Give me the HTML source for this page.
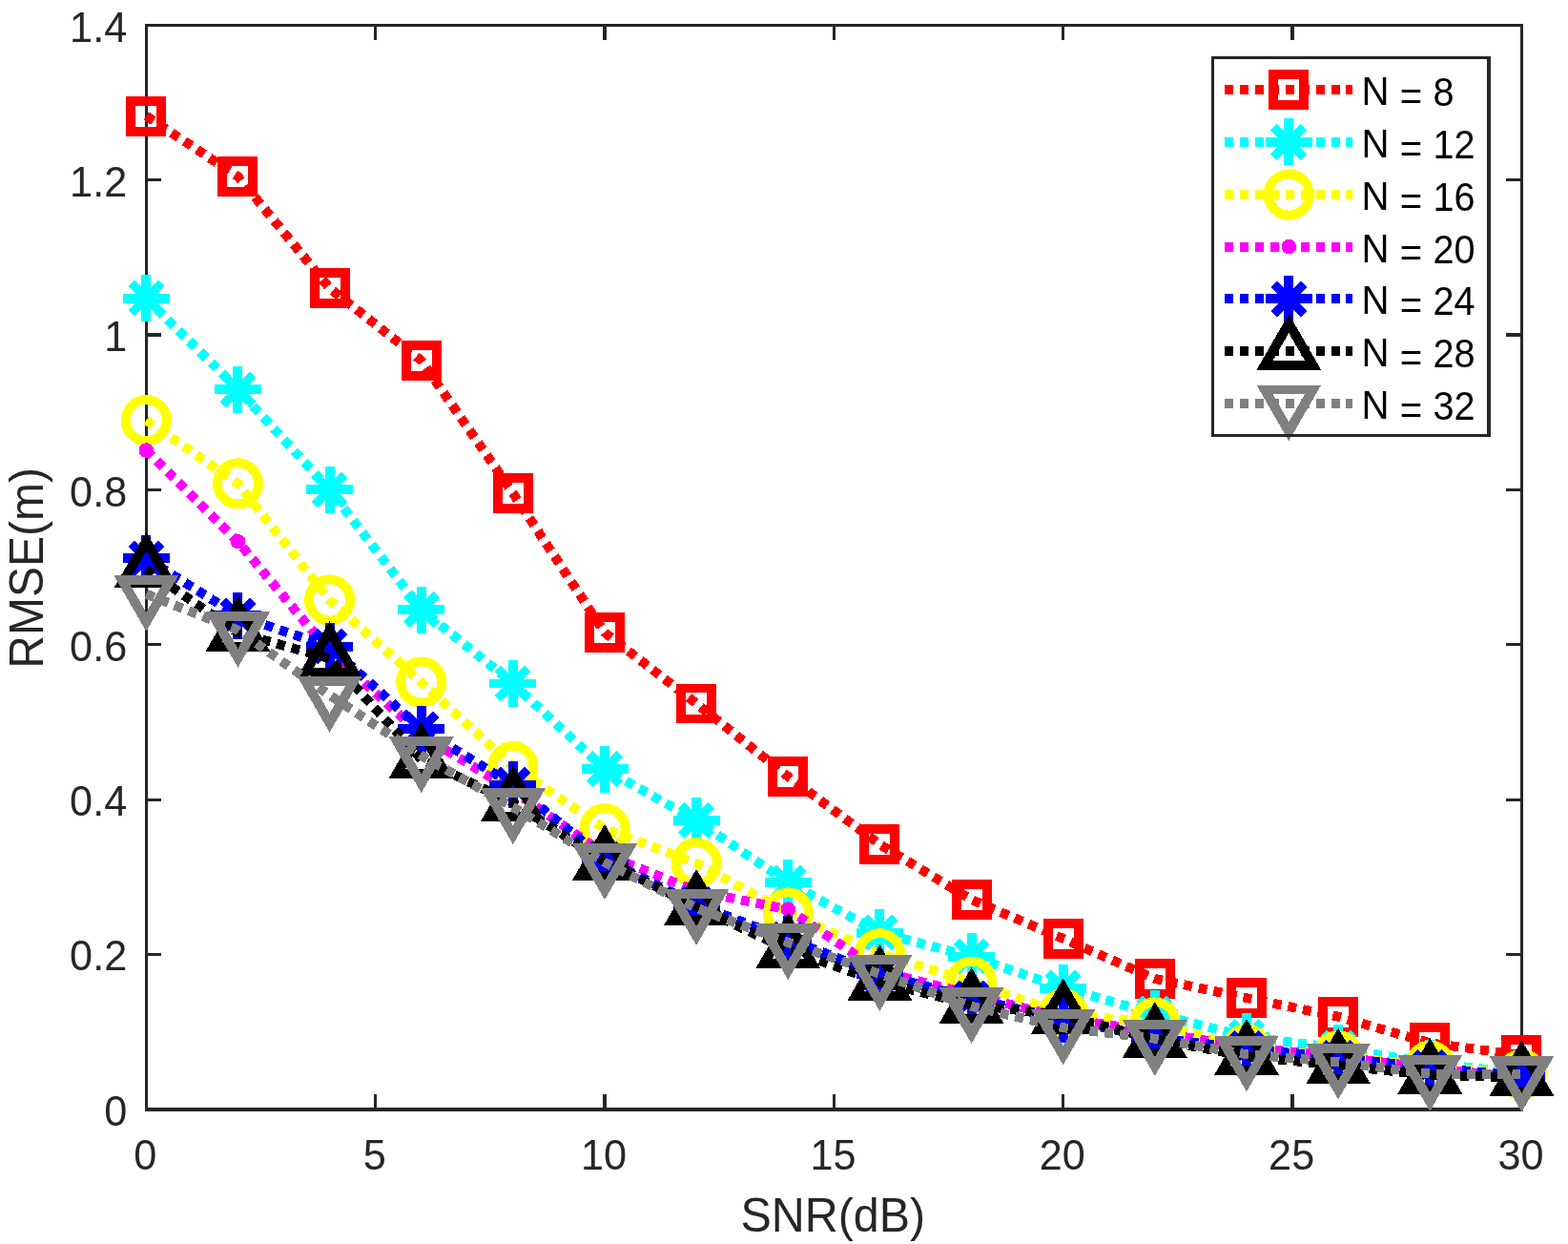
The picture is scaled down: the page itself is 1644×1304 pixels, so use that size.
<!DOCTYPE html>
<html lang="en"><head><meta charset="utf-8"><title>RMSE versus SNR</title>
<style>html,body{margin:0;padding:0;background:#fff}svg{display:block}text{font-family:"Liberation Sans",sans-serif}</style></head><body>
<svg width="1644" height="1304" viewBox="0 0 1644 1304" role="img" aria-label="RMSE versus SNR for different N">
<rect width="1644" height="1304" fill="#fff"/>
<g shape-rendering="crispEdges" fill="#262626">
<rect x="152" y="25" width="1445" height="3"/>
<rect x="152" y="1161" width="1445" height="4"/>
<rect x="152" y="25" width="3" height="1140"/>
<rect x="1594" y="25" width="3" height="1140"/>
<rect x="392" y="1147" width="3" height="14"/>
<rect x="392" y="28" width="3" height="14"/>
<rect x="632" y="1147" width="4" height="14"/>
<rect x="632" y="28" width="4" height="14"/>
<rect x="873" y="1147" width="3" height="14"/>
<rect x="873" y="28" width="3" height="14"/>
<rect x="1113" y="1147" width="3" height="14"/>
<rect x="1113" y="28" width="3" height="14"/>
<rect x="1353" y="1147" width="4" height="14"/>
<rect x="1353" y="28" width="4" height="14"/>
<rect x="155" y="999" width="14" height="3"/>
<rect x="1579" y="999" width="15" height="3"/>
<rect x="155" y="837" width="14" height="3"/>
<rect x="1579" y="837" width="15" height="3"/>
<rect x="155" y="674" width="14" height="3"/>
<rect x="1579" y="674" width="15" height="3"/>
<rect x="155" y="512" width="14" height="3"/>
<rect x="1579" y="512" width="15" height="3"/>
<rect x="155" y="349" width="14" height="4"/>
<rect x="1579" y="349" width="15" height="4"/>
<rect x="155" y="187" width="14" height="3"/>
<rect x="1579" y="187" width="15" height="3"/>
</g>
<g font-size="44.6" fill="#262626">
<g text-anchor="middle">
<text transform="translate(152.4 1226.0) scale(0.97 1)">0</text>
<text transform="translate(392.75 1226.0) scale(0.97 1)">5</text>
<text transform="translate(633.1 1226.0) scale(0.97 1)">10</text>
<text transform="translate(873.45 1226.0) scale(0.97 1)">15</text>
<text transform="translate(1113.8 1226.0) scale(0.97 1)">20</text>
<text transform="translate(1354.15 1226.0) scale(0.97 1)">25</text>
<text transform="translate(1594.5 1226.0) scale(0.97 1)">30</text>
</g><g text-anchor="end">
<text transform="translate(133.2 1179.8) scale(0.97 1)">0</text>
<text transform="translate(133.2 1017.49) scale(0.97 1)">0.2</text>
<text transform="translate(133.2 855.17) scale(0.97 1)">0.4</text>
<text transform="translate(133.2 692.86) scale(0.97 1)">0.6</text>
<text transform="translate(133.2 530.54) scale(0.97 1)">0.8</text>
<text transform="translate(133.2 368.23) scale(0.97 1)">1</text>
<text transform="translate(133.2 205.91) scale(0.97 1)">1.2</text>
<text transform="translate(133.2 43.6) scale(0.97 1)">1.4</text>
</g></g>
<g font-size="49.4" fill="#262626" text-anchor="middle">
<text transform="translate(873.3 1290.9) scale(0.98 1)">SNR(dB)</text>
<text transform="translate(44.9 595.3) rotate(-90) scale(0.972 1)">RMSE(m)</text>
</g>
<g shape-rendering="crispEdges" fill="none" stroke-linejoin="miter">
<g>
<polyline points="153.3,121.7 249.44,185 345.58,302.1 441.72,377.9 537.86,517 634,663.1 730.14,737.5 826.28,814 922.42,885.1 1018.56,943.1 1114.7,984 1210.84,1025.9 1306.98,1046.1 1403.12,1065.7 1499.26,1093.3 1595.4,1106.2" stroke="#ff0000" stroke-width="9.97" stroke-dasharray="8.96 6.97"/>
<rect x="137.3" y="105.7" width="32" height="32" fill="none" stroke="#ff0000" stroke-width="9.97"/>
<rect x="233.44" y="169" width="32" height="32" fill="none" stroke="#ff0000" stroke-width="9.97"/>
<rect x="329.58" y="286.1" width="32" height="32" fill="none" stroke="#ff0000" stroke-width="9.97"/>
<rect x="425.72" y="361.9" width="32" height="32" fill="none" stroke="#ff0000" stroke-width="9.97"/>
<rect x="521.86" y="501" width="32" height="32" fill="none" stroke="#ff0000" stroke-width="9.97"/>
<rect x="618" y="647.1" width="32" height="32" fill="none" stroke="#ff0000" stroke-width="9.97"/>
<rect x="714.14" y="721.5" width="32" height="32" fill="none" stroke="#ff0000" stroke-width="9.97"/>
<rect x="810.28" y="798" width="32" height="32" fill="none" stroke="#ff0000" stroke-width="9.97"/>
<rect x="906.42" y="869.1" width="32" height="32" fill="none" stroke="#ff0000" stroke-width="9.97"/>
<rect x="1002.56" y="927.1" width="32" height="32" fill="none" stroke="#ff0000" stroke-width="9.97"/>
<rect x="1098.7" y="968" width="32" height="32" fill="none" stroke="#ff0000" stroke-width="9.97"/>
<rect x="1194.84" y="1009.9" width="32" height="32" fill="none" stroke="#ff0000" stroke-width="9.97"/>
<rect x="1290.98" y="1030.1" width="32" height="32" fill="none" stroke="#ff0000" stroke-width="9.97"/>
<rect x="1387.12" y="1049.7" width="32" height="32" fill="none" stroke="#ff0000" stroke-width="9.97"/>
<rect x="1483.26" y="1077.3" width="32" height="32" fill="none" stroke="#ff0000" stroke-width="9.97"/>
<rect x="1579.4" y="1090.2" width="32" height="32" fill="none" stroke="#ff0000" stroke-width="9.97"/>
</g>
<g>
<polyline points="153.3,312.6 249.44,408.2 345.58,513.3 441.72,639 537.86,716.5 634,806.2 730.14,860 826.28,925.3 922.42,977.8 1018.56,1002.6 1114.7,1035.6 1210.84,1062.6 1306.98,1086.6 1403.12,1098.6 1499.26,1114.5 1595.4,1125" stroke="#00ffff" stroke-width="9.97" stroke-dasharray="8.96 6.97"/>
<path d="M128.8 312.6H177.8M153.3 288.1V337.1" fill="none" stroke="#00ffff" stroke-width="9.97"/><path d="M137.53 296.83L169.07 328.37M137.53 328.37L169.07 296.83" fill="none" stroke="#00ffff" stroke-width="9.2"/>
<path d="M224.94 408.2H273.94M249.44 383.7V432.7" fill="none" stroke="#00ffff" stroke-width="9.97"/><path d="M233.67 392.43L265.21 423.97M233.67 423.97L265.21 392.43" fill="none" stroke="#00ffff" stroke-width="9.2"/>
<path d="M321.08 513.3H370.08M345.58 488.8V537.8" fill="none" stroke="#00ffff" stroke-width="9.97"/><path d="M329.81 497.53L361.35 529.07M329.81 529.07L361.35 497.53" fill="none" stroke="#00ffff" stroke-width="9.2"/>
<path d="M417.22 639H466.22M441.72 614.5V663.5" fill="none" stroke="#00ffff" stroke-width="9.97"/><path d="M425.95 623.23L457.49 654.77M425.95 654.77L457.49 623.23" fill="none" stroke="#00ffff" stroke-width="9.2"/>
<path d="M513.36 716.5H562.36M537.86 692V741" fill="none" stroke="#00ffff" stroke-width="9.97"/><path d="M522.09 700.73L553.63 732.27M522.09 732.27L553.63 700.73" fill="none" stroke="#00ffff" stroke-width="9.2"/>
<path d="M609.5 806.2H658.5M634 781.7V830.7" fill="none" stroke="#00ffff" stroke-width="9.97"/><path d="M618.23 790.43L649.77 821.97M618.23 821.97L649.77 790.43" fill="none" stroke="#00ffff" stroke-width="9.2"/>
<path d="M705.64 860H754.64M730.14 835.5V884.5" fill="none" stroke="#00ffff" stroke-width="9.97"/><path d="M714.37 844.23L745.91 875.77M714.37 875.77L745.91 844.23" fill="none" stroke="#00ffff" stroke-width="9.2"/>
<path d="M801.78 925.3H850.78M826.28 900.8V949.8" fill="none" stroke="#00ffff" stroke-width="9.97"/><path d="M810.51 909.53L842.05 941.07M810.51 941.07L842.05 909.53" fill="none" stroke="#00ffff" stroke-width="9.2"/>
<path d="M897.92 977.8H946.92M922.42 953.3V1002.3" fill="none" stroke="#00ffff" stroke-width="9.97"/><path d="M906.65 962.03L938.19 993.57M906.65 993.57L938.19 962.03" fill="none" stroke="#00ffff" stroke-width="9.2"/>
<path d="M994.06 1002.6H1043.06M1018.56 978.1V1027.1" fill="none" stroke="#00ffff" stroke-width="9.97"/><path d="M1002.79 986.83L1034.33 1018.37M1002.79 1018.37L1034.33 986.83" fill="none" stroke="#00ffff" stroke-width="9.2"/>
<path d="M1090.2 1035.6H1139.2M1114.7 1011.1V1060.1" fill="none" stroke="#00ffff" stroke-width="9.97"/><path d="M1098.93 1019.83L1130.47 1051.37M1098.93 1051.37L1130.47 1019.83" fill="none" stroke="#00ffff" stroke-width="9.2"/>
<path d="M1186.34 1062.6H1235.34M1210.84 1038.1V1087.1" fill="none" stroke="#00ffff" stroke-width="9.97"/><path d="M1195.07 1046.83L1226.61 1078.37M1195.07 1078.37L1226.61 1046.83" fill="none" stroke="#00ffff" stroke-width="9.2"/>
<path d="M1282.48 1086.6H1331.48M1306.98 1062.1V1111.1" fill="none" stroke="#00ffff" stroke-width="9.97"/><path d="M1291.21 1070.83L1322.75 1102.37M1291.21 1102.37L1322.75 1070.83" fill="none" stroke="#00ffff" stroke-width="9.2"/>
<path d="M1378.62 1098.6H1427.62M1403.12 1074.1V1123.1" fill="none" stroke="#00ffff" stroke-width="9.97"/><path d="M1387.35 1082.83L1418.89 1114.37M1387.35 1114.37L1418.89 1082.83" fill="none" stroke="#00ffff" stroke-width="9.2"/>
<path d="M1474.76 1114.5H1523.76M1499.26 1090V1139" fill="none" stroke="#00ffff" stroke-width="9.97"/><path d="M1483.49 1098.73L1515.03 1130.27M1483.49 1130.27L1515.03 1098.73" fill="none" stroke="#00ffff" stroke-width="9.2"/>
<path d="M1570.9 1125H1619.9M1595.4 1100.5V1149.5" fill="none" stroke="#00ffff" stroke-width="9.97"/><path d="M1579.63 1109.23L1611.17 1140.77M1579.63 1140.77L1611.17 1109.23" fill="none" stroke="#00ffff" stroke-width="9.2"/>
</g>
<g>
<polyline points="153.3,440.6 249.44,506.9 345.58,629 441.72,715 537.86,803.5 634,868.7 730.14,904.7 826.28,957 922.42,999.8 1018.56,1029.3 1114.7,1063 1210.84,1072 1306.98,1099.9 1403.12,1106.8 1499.26,1117.3 1595.4,1126.3" stroke="#ffff00" stroke-width="9.97" stroke-dasharray="8.96 6.97"/>
<circle cx="153.3" cy="440.6" r="21.6" fill="none" stroke="#ffff00" stroke-width="9.97"/>
<circle cx="249.44" cy="506.9" r="21.6" fill="none" stroke="#ffff00" stroke-width="9.97"/>
<circle cx="345.58" cy="629" r="21.6" fill="none" stroke="#ffff00" stroke-width="9.97"/>
<circle cx="441.72" cy="715" r="21.6" fill="none" stroke="#ffff00" stroke-width="9.97"/>
<circle cx="537.86" cy="803.5" r="21.6" fill="none" stroke="#ffff00" stroke-width="9.97"/>
<circle cx="634" cy="868.7" r="21.6" fill="none" stroke="#ffff00" stroke-width="9.97"/>
<circle cx="730.14" cy="904.7" r="21.6" fill="none" stroke="#ffff00" stroke-width="9.97"/>
<circle cx="826.28" cy="957" r="21.6" fill="none" stroke="#ffff00" stroke-width="9.97"/>
<circle cx="922.42" cy="999.8" r="21.6" fill="none" stroke="#ffff00" stroke-width="9.97"/>
<circle cx="1018.56" cy="1029.3" r="21.6" fill="none" stroke="#ffff00" stroke-width="9.97"/>
<circle cx="1114.7" cy="1063" r="21.6" fill="none" stroke="#ffff00" stroke-width="9.97"/>
<circle cx="1210.84" cy="1072" r="21.6" fill="none" stroke="#ffff00" stroke-width="9.97"/>
<circle cx="1306.98" cy="1099.9" r="21.6" fill="none" stroke="#ffff00" stroke-width="9.97"/>
<circle cx="1403.12" cy="1106.8" r="21.6" fill="none" stroke="#ffff00" stroke-width="9.97"/>
<circle cx="1499.26" cy="1117.3" r="21.6" fill="none" stroke="#ffff00" stroke-width="9.97"/>
<circle cx="1595.4" cy="1126.3" r="21.6" fill="none" stroke="#ffff00" stroke-width="9.97"/>
</g>
<g>
<polyline points="153.3,472 249.44,567.7 345.58,683 441.72,770.4 537.86,829 634,895.5 730.14,934 826.28,953.2 922.42,1018 1018.56,1042.5 1114.7,1067 1210.84,1082 1306.98,1097.5 1403.12,1107.8 1499.26,1119.5 1595.4,1130" stroke="#ff00ff" stroke-width="9.97" stroke-dasharray="8.96 6.97"/>
<circle cx="153.3" cy="472" r="7.8" fill="#ff00ff"/>
<circle cx="249.44" cy="567.7" r="7.8" fill="#ff00ff"/>
<circle cx="345.58" cy="683" r="7.8" fill="#ff00ff"/>
<circle cx="441.72" cy="770.4" r="7.8" fill="#ff00ff"/>
<circle cx="537.86" cy="829" r="7.8" fill="#ff00ff"/>
<circle cx="634" cy="895.5" r="7.8" fill="#ff00ff"/>
<circle cx="730.14" cy="934" r="7.8" fill="#ff00ff"/>
<circle cx="826.28" cy="953.2" r="7.8" fill="#ff00ff"/>
<circle cx="922.42" cy="1018" r="7.8" fill="#ff00ff"/>
<circle cx="1018.56" cy="1042.5" r="7.8" fill="#ff00ff"/>
<circle cx="1114.7" cy="1067" r="7.8" fill="#ff00ff"/>
<circle cx="1210.84" cy="1082" r="7.8" fill="#ff00ff"/>
<circle cx="1306.98" cy="1097.5" r="7.8" fill="#ff00ff"/>
<circle cx="1403.12" cy="1107.8" r="7.8" fill="#ff00ff"/>
<circle cx="1499.26" cy="1119.5" r="7.8" fill="#ff00ff"/>
<circle cx="1595.4" cy="1130" r="7.8" fill="#ff00ff"/>
</g>
<g>
<polyline points="153.3,585.4 249.44,645.4 345.58,677.8 441.72,764.3 537.86,822.6 634,901 730.14,948 826.28,984.5 922.42,1021 1018.56,1046.5 1114.7,1068.5 1210.84,1088 1306.98,1099 1403.12,1109 1499.26,1119 1595.4,1128" stroke="#0000ff" stroke-width="9.97" stroke-dasharray="8.96 6.97"/>
<path d="M128.8 585.4H177.8M153.3 560.9V609.9" fill="none" stroke="#0000ff" stroke-width="9.97"/><path d="M137.53 569.63L169.07 601.17M137.53 601.17L169.07 569.63" fill="none" stroke="#0000ff" stroke-width="9.2"/>
<path d="M224.94 645.4H273.94M249.44 620.9V669.9" fill="none" stroke="#0000ff" stroke-width="9.97"/><path d="M233.67 629.63L265.21 661.17M233.67 661.17L265.21 629.63" fill="none" stroke="#0000ff" stroke-width="9.2"/>
<path d="M321.08 677.8H370.08M345.58 653.3V702.3" fill="none" stroke="#0000ff" stroke-width="9.97"/><path d="M329.81 662.03L361.35 693.57M329.81 693.57L361.35 662.03" fill="none" stroke="#0000ff" stroke-width="9.2"/>
<path d="M417.22 764.3H466.22M441.72 739.8V788.8" fill="none" stroke="#0000ff" stroke-width="9.97"/><path d="M425.95 748.53L457.49 780.07M425.95 780.07L457.49 748.53" fill="none" stroke="#0000ff" stroke-width="9.2"/>
<path d="M513.36 822.6H562.36M537.86 798.1V847.1" fill="none" stroke="#0000ff" stroke-width="9.97"/><path d="M522.09 806.83L553.63 838.37M522.09 838.37L553.63 806.83" fill="none" stroke="#0000ff" stroke-width="9.2"/>
<path d="M609.5 901H658.5M634 876.5V925.5" fill="none" stroke="#0000ff" stroke-width="9.97"/><path d="M618.23 885.23L649.77 916.77M618.23 916.77L649.77 885.23" fill="none" stroke="#0000ff" stroke-width="9.2"/>
<path d="M705.64 948H754.64M730.14 923.5V972.5" fill="none" stroke="#0000ff" stroke-width="9.97"/><path d="M714.37 932.23L745.91 963.77M714.37 963.77L745.91 932.23" fill="none" stroke="#0000ff" stroke-width="9.2"/>
<path d="M801.78 984.5H850.78M826.28 960V1009" fill="none" stroke="#0000ff" stroke-width="9.97"/><path d="M810.51 968.73L842.05 1000.27M810.51 1000.27L842.05 968.73" fill="none" stroke="#0000ff" stroke-width="9.2"/>
<path d="M897.92 1021H946.92M922.42 996.5V1045.5" fill="none" stroke="#0000ff" stroke-width="9.97"/><path d="M906.65 1005.23L938.19 1036.77M906.65 1036.77L938.19 1005.23" fill="none" stroke="#0000ff" stroke-width="9.2"/>
<path d="M994.06 1046.5H1043.06M1018.56 1022V1071" fill="none" stroke="#0000ff" stroke-width="9.97"/><path d="M1002.79 1030.73L1034.33 1062.27M1002.79 1062.27L1034.33 1030.73" fill="none" stroke="#0000ff" stroke-width="9.2"/>
<path d="M1090.2 1068.5H1139.2M1114.7 1044V1093" fill="none" stroke="#0000ff" stroke-width="9.97"/><path d="M1098.93 1052.73L1130.47 1084.27M1098.93 1084.27L1130.47 1052.73" fill="none" stroke="#0000ff" stroke-width="9.2"/>
<path d="M1186.34 1088H1235.34M1210.84 1063.5V1112.5" fill="none" stroke="#0000ff" stroke-width="9.97"/><path d="M1195.07 1072.23L1226.61 1103.77M1195.07 1103.77L1226.61 1072.23" fill="none" stroke="#0000ff" stroke-width="9.2"/>
<path d="M1282.48 1099H1331.48M1306.98 1074.5V1123.5" fill="none" stroke="#0000ff" stroke-width="9.97"/><path d="M1291.21 1083.23L1322.75 1114.77M1291.21 1114.77L1322.75 1083.23" fill="none" stroke="#0000ff" stroke-width="9.2"/>
<path d="M1378.62 1109H1427.62M1403.12 1084.5V1133.5" fill="none" stroke="#0000ff" stroke-width="9.97"/><path d="M1387.35 1093.23L1418.89 1124.77M1387.35 1124.77L1418.89 1093.23" fill="none" stroke="#0000ff" stroke-width="9.2"/>
<path d="M1474.76 1119H1523.76M1499.26 1094.5V1143.5" fill="none" stroke="#0000ff" stroke-width="9.97"/><path d="M1483.49 1103.23L1515.03 1134.77M1483.49 1134.77L1515.03 1103.23" fill="none" stroke="#0000ff" stroke-width="9.2"/>
<path d="M1570.9 1128H1619.9M1595.4 1103.5V1152.5" fill="none" stroke="#0000ff" stroke-width="9.97"/><path d="M1579.63 1112.23L1611.17 1143.77M1579.63 1143.77L1611.17 1112.23" fill="none" stroke="#0000ff" stroke-width="9.2"/>
</g>
<g>
<polyline points="153.3,596.8 249.44,663.3 345.58,690.3 441.72,796 537.86,841.4 634,903 730.14,950.1 826.28,995.5 922.42,1029.2 1018.56,1053.2 1114.7,1064.4 1210.84,1089.3 1306.98,1107.2 1403.12,1116.8 1499.26,1127 1595.4,1129.3" stroke="#000000" stroke-width="9.97" stroke-dasharray="8.96 6.97"/>
<path d="M153.3 567.6L178.59 611.4L128.01 611.4Z" fill="none" stroke="#000000" stroke-width="9.97" stroke-miterlimit="10"/>
<path d="M249.44 634.1L274.73 677.9L224.15 677.9Z" fill="none" stroke="#000000" stroke-width="9.97" stroke-miterlimit="10"/>
<path d="M345.58 661.1L370.87 704.9L320.29 704.9Z" fill="none" stroke="#000000" stroke-width="9.97" stroke-miterlimit="10"/>
<path d="M441.72 766.8L467.01 810.6L416.43 810.6Z" fill="none" stroke="#000000" stroke-width="9.97" stroke-miterlimit="10"/>
<path d="M537.86 812.2L563.15 856L512.57 856Z" fill="none" stroke="#000000" stroke-width="9.97" stroke-miterlimit="10"/>
<path d="M634 873.8L659.29 917.6L608.71 917.6Z" fill="none" stroke="#000000" stroke-width="9.97" stroke-miterlimit="10"/>
<path d="M730.14 920.9L755.43 964.7L704.85 964.7Z" fill="none" stroke="#000000" stroke-width="9.97" stroke-miterlimit="10"/>
<path d="M826.28 966.3L851.57 1010.1L800.99 1010.1Z" fill="none" stroke="#000000" stroke-width="9.97" stroke-miterlimit="10"/>
<path d="M922.42 1000L947.71 1043.8L897.13 1043.8Z" fill="none" stroke="#000000" stroke-width="9.97" stroke-miterlimit="10"/>
<path d="M1018.56 1024L1043.85 1067.8L993.27 1067.8Z" fill="none" stroke="#000000" stroke-width="9.97" stroke-miterlimit="10"/>
<path d="M1114.7 1035.2L1139.99 1079L1089.41 1079Z" fill="none" stroke="#000000" stroke-width="9.97" stroke-miterlimit="10"/>
<path d="M1210.84 1060.1L1236.13 1103.9L1185.55 1103.9Z" fill="none" stroke="#000000" stroke-width="9.97" stroke-miterlimit="10"/>
<path d="M1306.98 1078L1332.27 1121.8L1281.69 1121.8Z" fill="none" stroke="#000000" stroke-width="9.97" stroke-miterlimit="10"/>
<path d="M1403.12 1087.6L1428.41 1131.4L1377.83 1131.4Z" fill="none" stroke="#000000" stroke-width="9.97" stroke-miterlimit="10"/>
<path d="M1499.26 1097.8L1524.55 1141.6L1473.97 1141.6Z" fill="none" stroke="#000000" stroke-width="9.97" stroke-miterlimit="10"/>
<path d="M1595.4 1100.1L1620.69 1143.9L1570.11 1143.9Z" fill="none" stroke="#000000" stroke-width="9.97" stroke-miterlimit="10"/>
</g>
<g>
<polyline points="153.3,622.7 249.44,660.5 345.58,728.6 441.72,792 537.86,846 634,904 730.14,951.8 826.28,987.9 922.42,1020.8 1018.56,1054.8 1114.7,1077.2 1210.84,1088.7 1306.98,1105.2 1403.12,1113.3 1499.26,1125.6 1595.4,1126.5" stroke="#808080" stroke-width="9.97" stroke-dasharray="8.96 6.97"/>
<path d="M153.3 651.9L178.59 608.1L128.01 608.1Z" fill="none" stroke="#808080" stroke-width="9.97" stroke-miterlimit="10"/>
<path d="M249.44 689.7L274.73 645.9L224.15 645.9Z" fill="none" stroke="#808080" stroke-width="9.97" stroke-miterlimit="10"/>
<path d="M345.58 757.8L370.87 714L320.29 714Z" fill="none" stroke="#808080" stroke-width="9.97" stroke-miterlimit="10"/>
<path d="M441.72 821.2L467.01 777.4L416.43 777.4Z" fill="none" stroke="#808080" stroke-width="9.97" stroke-miterlimit="10"/>
<path d="M537.86 875.2L563.15 831.4L512.57 831.4Z" fill="none" stroke="#808080" stroke-width="9.97" stroke-miterlimit="10"/>
<path d="M634 933.2L659.29 889.4L608.71 889.4Z" fill="none" stroke="#808080" stroke-width="9.97" stroke-miterlimit="10"/>
<path d="M730.14 981L755.43 937.2L704.85 937.2Z" fill="none" stroke="#808080" stroke-width="9.97" stroke-miterlimit="10"/>
<path d="M826.28 1017.1L851.57 973.3L800.99 973.3Z" fill="none" stroke="#808080" stroke-width="9.97" stroke-miterlimit="10"/>
<path d="M922.42 1050L947.71 1006.2L897.13 1006.2Z" fill="none" stroke="#808080" stroke-width="9.97" stroke-miterlimit="10"/>
<path d="M1018.56 1084L1043.85 1040.2L993.27 1040.2Z" fill="none" stroke="#808080" stroke-width="9.97" stroke-miterlimit="10"/>
<path d="M1114.7 1106.4L1139.99 1062.6L1089.41 1062.6Z" fill="none" stroke="#808080" stroke-width="9.97" stroke-miterlimit="10"/>
<path d="M1210.84 1117.9L1236.13 1074.1L1185.55 1074.1Z" fill="none" stroke="#808080" stroke-width="9.97" stroke-miterlimit="10"/>
<path d="M1306.98 1134.4L1332.27 1090.6L1281.69 1090.6Z" fill="none" stroke="#808080" stroke-width="9.97" stroke-miterlimit="10"/>
<path d="M1403.12 1142.5L1428.41 1098.7L1377.83 1098.7Z" fill="none" stroke="#808080" stroke-width="9.97" stroke-miterlimit="10"/>
<path d="M1499.26 1154.8L1524.55 1111L1473.97 1111Z" fill="none" stroke="#808080" stroke-width="9.97" stroke-miterlimit="10"/>
<path d="M1595.4 1155.7L1620.69 1111.9L1570.11 1111.9Z" fill="none" stroke="#808080" stroke-width="9.97" stroke-miterlimit="10"/>
</g>
</g>
<g shape-rendering="crispEdges">
<rect x="1271.6" y="60.5" width="289.4" height="395.7" fill="#fff"/>
<path d="M1284.05 94H1418.05" fill="none" stroke="#ff0000" stroke-width="9.97" stroke-dasharray="8.96 6.97"/>
<rect x="1335.3" y="78" width="32" height="32" fill="none" stroke="#ff0000" stroke-width="9.97"/>
<path d="M1284.05 148.85H1418.05" fill="none" stroke="#00ffff" stroke-width="9.97" stroke-dasharray="8.96 6.97"/>
<path d="M1326.8 148.85H1375.8M1351.3 124.35V173.35" fill="none" stroke="#00ffff" stroke-width="9.97"/><path d="M1335.53 133.08L1367.07 164.62M1335.53 164.62L1367.07 133.08" fill="none" stroke="#00ffff" stroke-width="9.2"/>
<path d="M1284.05 204H1418.05" fill="none" stroke="#ffff00" stroke-width="9.97" stroke-dasharray="8.96 6.97"/>
<circle cx="1351.3" cy="204" r="21.6" fill="none" stroke="#ffff00" stroke-width="9.97"/>
<path d="M1284.05 258.55H1418.05" fill="none" stroke="#ff00ff" stroke-width="9.97" stroke-dasharray="8.96 6.97"/>
<circle cx="1351.3" cy="258.55" r="7.8" fill="#ff00ff"/>
<path d="M1284.05 313.4H1418.05" fill="none" stroke="#0000ff" stroke-width="9.97" stroke-dasharray="8.96 6.97"/>
<path d="M1326.8 313.4H1375.8M1351.3 288.9V337.9" fill="none" stroke="#0000ff" stroke-width="9.97"/><path d="M1335.53 297.63L1367.07 329.17M1335.53 329.17L1367.07 297.63" fill="none" stroke="#0000ff" stroke-width="9.2"/>
<path d="M1284.05 368.25H1418.05" fill="none" stroke="#000000" stroke-width="9.97" stroke-dasharray="8.96 6.97"/>
<path d="M1351.3 339.05L1376.59 382.85L1326.01 382.85Z" fill="none" stroke="#000000" stroke-width="9.97" stroke-miterlimit="10"/>
<path d="M1284.05 423.1H1418.05" fill="none" stroke="#808080" stroke-width="9.97" stroke-dasharray="8.96 6.97"/>
<path d="M1351.3 452.3L1376.59 408.5L1326.01 408.5Z" fill="none" stroke="#808080" stroke-width="9.97" stroke-miterlimit="10"/>
<g fill="#262626"><rect x="1270" y="59" width="293" height="3"/><rect x="1270" y="455" width="293" height="3"/><rect x="1270" y="59" width="3" height="399"/><rect x="1559" y="59" width="4" height="399"/></g>
</g>
<g font-size="43" fill="#000">
<text transform="translate(1427.58 110) scale(0.935 1)" style="white-space:pre">N<tspan dy="4.9"> = </tspan><tspan dy="-3.9" font-size="42.4">8</tspan></text>
<text transform="translate(1427.58 164.85) scale(0.935 1)" style="white-space:pre">N<tspan dy="4.9"> = </tspan><tspan dy="-3.9" font-size="42.4">12</tspan></text>
<text transform="translate(1427.58 219.7) scale(0.935 1)" style="white-space:pre">N<tspan dy="4.9"> = </tspan><tspan dy="-3.9" font-size="42.4">16</tspan></text>
<text transform="translate(1427.58 274.55) scale(0.935 1)" style="white-space:pre">N<tspan dy="4.9"> = </tspan><tspan dy="-3.9" font-size="42.4">20</tspan></text>
<text transform="translate(1427.58 329.4) scale(0.935 1)" style="white-space:pre">N<tspan dy="4.9"> = </tspan><tspan dy="-3.9" font-size="42.4">24</tspan></text>
<text transform="translate(1427.58 384.25) scale(0.935 1)" style="white-space:pre">N<tspan dy="4.9"> = </tspan><tspan dy="-3.9" font-size="42.4">28</tspan></text>
<text transform="translate(1427.58 439.1) scale(0.935 1)" style="white-space:pre">N<tspan dy="4.9"> = </tspan><tspan dy="-3.9" font-size="42.4">32</tspan></text>
</g>
</svg></body></html>
